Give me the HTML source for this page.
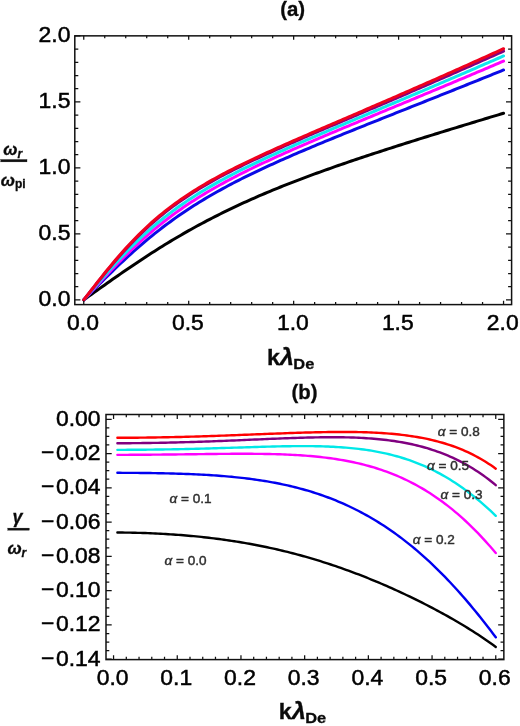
<!DOCTYPE html>
<html><head><meta charset="utf-8"><title>Figure</title>
<style>html,body{margin:0;padding:0;background:#fff}svg{display:block}</style>
</head><body>
<svg width="520" height="726" viewBox="0 0 520 726">
<rect width="520" height="726" fill="#fff"/>
<g fill="none" stroke-width="3.0" stroke-linecap="round" stroke-linejoin="round">
<path stroke="#000000" d="M83.75,299.90 L86.37,298.02 L89.00,296.14 L91.62,294.26 L94.25,292.38 L96.87,290.51 L99.49,288.64 L102.12,286.77 L104.74,284.91 L107.36,283.05 L109.99,281.20 L112.61,279.35 L115.24,277.52 L117.86,275.69 L120.48,273.86 L123.11,272.05 L125.73,270.25 L128.35,268.45 L130.98,266.67 L133.60,264.90 L136.22,263.14 L138.85,261.38 L141.47,259.65 L144.10,257.92 L146.72,256.21 L149.34,254.51 L151.97,252.82 L154.59,251.14 L157.22,249.48 L159.84,247.84 L162.46,246.20 L165.09,244.59 L167.71,242.98 L170.33,241.39 L172.96,239.82 L175.58,238.26 L178.20,236.71 L180.83,235.18 L183.45,233.67 L186.08,232.16 L188.70,230.68 L191.32,229.21 L193.95,227.75 L196.57,226.31 L199.19,224.88 L201.82,223.47 L204.44,222.07 L207.07,220.68 L209.69,219.31 L212.31,217.96 L214.94,216.62 L217.56,215.29 L220.19,213.97 L222.81,212.67 L225.43,211.38 L228.06,210.11 L230.68,208.84 L233.30,207.59 L235.93,206.36 L238.55,205.13 L241.18,203.92 L243.80,202.71 L246.42,201.52 L249.05,200.35 L251.67,199.18 L254.29,198.02 L256.92,196.87 L259.54,195.74 L262.17,194.61 L264.79,193.50 L267.41,192.39 L270.04,191.30 L272.66,190.21 L275.28,189.13 L277.91,188.07 L280.53,187.01 L283.16,185.96 L285.78,184.91 L288.40,183.88 L291.03,182.85 L293.65,181.84 L296.27,180.82 L298.90,179.82 L301.52,178.82 L304.14,177.84 L306.77,176.85 L309.39,175.88 L312.02,174.91 L314.64,173.94 L317.26,172.99 L319.89,172.04 L322.51,171.09 L325.14,170.15 L327.76,169.22 L330.38,168.29 L333.01,167.36 L335.63,166.45 L338.25,165.53 L340.88,164.62 L343.50,163.72 L346.12,162.82 L348.75,161.92 L351.37,161.03 L354.00,160.14 L356.62,159.26 L359.24,158.38 L361.87,157.50 L364.49,156.63 L367.12,155.76 L369.74,154.89 L372.36,154.03 L374.99,153.17 L377.61,152.31 L380.23,151.46 L382.86,150.60 L385.48,149.76 L388.11,148.91 L390.73,148.07 L393.35,147.23 L395.98,146.39 L398.60,145.55 L401.22,144.72 L403.85,143.88 L406.47,143.05 L409.10,142.22 L411.72,141.40 L414.34,140.57 L416.97,139.75 L419.59,138.93 L422.21,138.11 L424.84,137.29 L427.46,136.48 L430.09,135.66 L432.71,134.85 L435.33,134.04 L437.96,133.22 L440.58,132.41 L443.20,131.61 L445.83,130.80 L448.45,129.99 L451.07,129.19 L453.70,128.38 L456.32,127.58 L458.95,126.77 L461.57,125.97 L464.19,125.17 L466.82,124.37 L469.44,123.57 L472.07,122.77 L474.69,121.97 L477.31,121.18 L479.94,120.38 L482.56,119.58 L485.18,118.79 L487.81,117.99 L490.43,117.19 L493.06,116.40 L495.68,115.61 L498.30,114.81 L500.93,114.02 L503.55,113.22"/>
<path stroke="#0a0ae6" d="M83.75,299.90 L86.37,297.24 L89.00,294.58 L91.62,291.93 L94.25,289.28 L96.87,286.64 L99.49,284.00 L102.12,281.39 L104.74,278.78 L107.36,276.19 L109.99,273.62 L112.61,271.07 L115.24,268.53 L117.86,266.02 L120.48,263.53 L123.11,261.07 L125.73,258.63 L128.35,256.22 L130.98,253.83 L133.60,251.48 L136.22,249.15 L138.85,246.85 L141.47,244.58 L144.10,242.34 L146.72,240.14 L149.34,237.96 L151.97,235.82 L154.59,233.70 L157.22,231.62 L159.84,229.57 L162.46,227.55 L165.09,225.56 L167.71,223.60 L170.33,221.67 L172.96,219.77 L175.58,217.90 L178.20,216.06 L180.83,214.25 L183.45,212.46 L186.08,210.71 L188.70,208.98 L191.32,207.27 L193.95,205.59 L196.57,203.94 L199.19,202.31 L201.82,200.70 L204.44,199.12 L207.07,197.56 L209.69,196.02 L212.31,194.50 L214.94,193.00 L217.56,191.53 L220.19,190.07 L222.81,188.63 L225.43,187.21 L228.06,185.80 L230.68,184.41 L233.30,183.04 L235.93,181.68 L238.55,180.34 L241.18,179.01 L243.80,177.70 L246.42,176.40 L249.05,175.11 L251.67,173.83 L254.29,172.57 L256.92,171.32 L259.54,170.08 L262.17,168.84 L264.79,167.62 L267.41,166.41 L270.04,165.21 L272.66,164.02 L275.28,162.83 L277.91,161.65 L280.53,160.48 L283.16,159.32 L285.78,158.17 L288.40,157.02 L291.03,155.87 L293.65,154.74 L296.27,153.61 L298.90,152.48 L301.52,151.36 L304.14,150.25 L306.77,149.14 L309.39,148.03 L312.02,146.93 L314.64,145.84 L317.26,144.74 L319.89,143.65 L322.51,142.57 L325.14,141.48 L327.76,140.41 L330.38,139.33 L333.01,138.25 L335.63,137.18 L338.25,136.11 L340.88,135.05 L343.50,133.98 L346.12,132.92 L348.75,131.86 L351.37,130.80 L354.00,129.74 L356.62,128.69 L359.24,127.63 L361.87,126.58 L364.49,125.53 L367.12,124.48 L369.74,123.43 L372.36,122.38 L374.99,121.33 L377.61,120.29 L380.23,119.24 L382.86,118.19 L385.48,117.15 L388.11,116.10 L390.73,115.06 L393.35,114.02 L395.98,112.97 L398.60,111.93 L401.22,110.89 L403.85,109.84 L406.47,108.80 L409.10,107.76 L411.72,106.71 L414.34,105.67 L416.97,104.63 L419.59,103.58 L422.21,102.54 L424.84,101.50 L427.46,100.45 L430.09,99.41 L432.71,98.37 L435.33,97.32 L437.96,96.28 L440.58,95.23 L443.20,94.18 L445.83,93.14 L448.45,92.09 L451.07,91.04 L453.70,90.00 L456.32,88.95 L458.95,87.90 L461.57,86.85 L464.19,85.80 L466.82,84.75 L469.44,83.70 L472.07,82.65 L474.69,81.59 L477.31,80.54 L479.94,79.49 L482.56,78.43 L485.18,77.38 L487.81,76.32 L490.43,75.27 L493.06,74.21 L495.68,73.15 L498.30,72.09 L500.93,71.03 L503.55,69.98"/>
<path stroke="#ff00ff" d="M83.75,299.90 L86.37,297.01 L89.00,294.13 L91.62,291.25 L94.25,288.37 L96.87,285.51 L99.49,282.66 L102.12,279.83 L104.74,277.02 L107.36,274.22 L109.99,271.45 L112.61,268.70 L115.24,265.98 L117.86,263.29 L120.48,260.62 L123.11,257.99 L125.73,255.39 L128.35,252.83 L130.98,250.29 L133.60,247.80 L136.22,245.34 L138.85,242.91 L141.47,240.53 L144.10,238.18 L146.72,235.87 L149.34,233.60 L151.97,231.36 L154.59,229.16 L157.22,227.00 L159.84,224.88 L162.46,222.79 L165.09,220.74 L167.71,218.73 L170.33,216.75 L172.96,214.80 L175.58,212.89 L178.20,211.01 L180.83,209.17 L183.45,207.35 L186.08,205.57 L188.70,203.81 L191.32,202.09 L193.95,200.39 L196.57,198.72 L199.19,197.07 L201.82,195.45 L204.44,193.86 L207.07,192.29 L209.69,190.74 L212.31,189.22 L214.94,187.71 L217.56,186.23 L220.19,184.77 L222.81,183.32 L225.43,181.90 L228.06,180.49 L230.68,179.10 L233.30,177.72 L235.93,176.36 L238.55,175.01 L241.18,173.68 L243.80,172.36 L246.42,171.06 L249.05,169.77 L251.67,168.49 L254.29,167.22 L256.92,165.96 L259.54,164.71 L262.17,163.47 L264.79,162.24 L267.41,161.02 L270.04,159.81 L272.66,158.60 L275.28,157.41 L277.91,156.22 L280.53,155.04 L283.16,153.86 L285.78,152.69 L288.40,151.53 L291.03,150.37 L293.65,149.21 L296.27,148.07 L298.90,146.92 L301.52,145.78 L304.14,144.65 L306.77,143.52 L309.39,142.39 L312.02,141.27 L314.64,140.15 L317.26,139.03 L319.89,137.91 L322.51,136.80 L325.14,135.69 L327.76,134.59 L330.38,133.48 L333.01,132.38 L335.63,131.28 L338.25,130.18 L340.88,129.08 L343.50,127.98 L346.12,126.89 L348.75,125.79 L351.37,124.70 L354.00,123.61 L356.62,122.52 L359.24,121.43 L361.87,120.34 L364.49,119.25 L367.12,118.16 L369.74,117.07 L372.36,115.99 L374.99,114.90 L377.61,113.81 L380.23,112.73 L382.86,111.64 L385.48,110.55 L388.11,109.47 L390.73,108.38 L393.35,107.29 L395.98,106.21 L398.60,105.12 L401.22,104.03 L403.85,102.94 L406.47,101.85 L409.10,100.77 L411.72,99.68 L414.34,98.59 L416.97,97.50 L419.59,96.41 L422.21,95.31 L424.84,94.22 L427.46,93.13 L430.09,92.04 L432.71,90.94 L435.33,89.85 L437.96,88.76 L440.58,87.66 L443.20,86.56 L445.83,85.47 L448.45,84.37 L451.07,83.27 L453.70,82.17 L456.32,81.07 L458.95,79.97 L461.57,78.87 L464.19,77.76 L466.82,76.66 L469.44,75.56 L472.07,74.45 L474.69,73.35 L477.31,72.24 L479.94,71.13 L482.56,70.02 L485.18,68.91 L487.81,67.80 L490.43,66.69 L493.06,65.58 L495.68,64.47 L498.30,63.35 L500.93,62.24 L503.55,61.12"/>
<path stroke="#10e6ee" d="M83.75,299.90 L86.37,296.81 L89.00,293.73 L91.62,290.65 L94.25,287.59 L96.87,284.53 L99.49,281.50 L102.12,278.48 L104.74,275.49 L107.36,272.52 L109.99,269.58 L112.61,266.67 L115.24,263.79 L117.86,260.94 L120.48,258.14 L123.11,255.37 L125.73,252.64 L128.35,249.95 L130.98,247.31 L133.60,244.71 L136.22,242.15 L138.85,239.63 L141.47,237.16 L144.10,234.73 L146.72,232.35 L149.34,230.02 L151.97,227.72 L154.59,225.47 L157.22,223.27 L159.84,221.10 L162.46,218.98 L165.09,216.90 L167.71,214.86 L170.33,212.86 L172.96,210.89 L175.58,208.97 L178.20,207.08 L180.83,205.22 L183.45,203.40 L186.08,201.62 L188.70,199.86 L191.32,198.14 L193.95,196.45 L196.57,194.78 L199.19,193.14 L201.82,191.53 L204.44,189.95 L207.07,188.39 L209.69,186.86 L212.31,185.34 L214.94,183.85 L217.56,182.38 L220.19,180.93 L222.81,179.50 L225.43,178.09 L228.06,176.70 L230.68,175.32 L233.30,173.96 L235.93,172.61 L238.55,171.28 L241.18,169.96 L243.80,168.66 L246.42,167.36 L249.05,166.08 L251.67,164.81 L254.29,163.55 L256.92,162.30 L259.54,161.07 L262.17,159.84 L264.79,158.61 L267.41,157.40 L270.04,156.19 L272.66,155.00 L275.28,153.81 L277.91,152.62 L280.53,151.44 L283.16,150.27 L285.78,149.10 L288.40,147.94 L291.03,146.78 L293.65,145.63 L296.27,144.48 L298.90,143.33 L301.52,142.19 L304.14,141.06 L306.77,139.92 L309.39,138.79 L312.02,137.66 L314.64,136.54 L317.26,135.41 L319.89,134.29 L322.51,133.17 L325.14,132.05 L327.76,130.94 L330.38,129.82 L333.01,128.71 L335.63,127.60 L338.25,126.49 L340.88,125.38 L343.50,124.27 L346.12,123.16 L348.75,122.05 L351.37,120.95 L354.00,119.84 L356.62,118.73 L359.24,117.63 L361.87,116.52 L364.49,115.42 L367.12,114.31 L369.74,113.21 L372.36,112.10 L374.99,111.00 L377.61,109.89 L380.23,108.79 L382.86,107.68 L385.48,106.57 L388.11,105.47 L390.73,104.36 L393.35,103.25 L395.98,102.14 L398.60,101.03 L401.22,99.92 L403.85,98.81 L406.47,97.70 L409.10,96.59 L411.72,95.48 L414.34,94.36 L416.97,93.25 L419.59,92.13 L422.21,91.02 L424.84,89.90 L427.46,88.79 L430.09,87.67 L432.71,86.55 L435.33,85.43 L437.96,84.31 L440.58,83.18 L443.20,82.06 L445.83,80.94 L448.45,79.81 L451.07,78.69 L453.70,77.56 L456.32,76.43 L458.95,75.30 L461.57,74.17 L464.19,73.04 L466.82,71.91 L469.44,70.78 L472.07,69.64 L474.69,68.51 L477.31,67.37 L479.94,66.24 L482.56,65.10 L485.18,63.96 L487.81,62.82 L490.43,61.68 L493.06,60.54 L495.68,59.39 L498.30,58.25 L500.93,57.10 L503.55,55.96"/>
<path stroke="#800080" d="M83.75,299.90 L86.37,296.56 L89.00,293.22 L91.62,289.89 L94.25,286.58 L96.87,283.28 L99.49,280.01 L102.12,276.76 L104.74,273.54 L107.36,270.35 L109.99,267.20 L112.61,264.09 L115.24,261.02 L117.86,258.00 L120.48,255.02 L123.11,252.10 L125.73,249.22 L128.35,246.39 L130.98,243.62 L133.60,240.90 L136.22,238.23 L138.85,235.62 L141.47,233.06 L144.10,230.56 L146.72,228.11 L149.34,225.71 L151.97,223.37 L154.59,221.07 L157.22,218.83 L159.84,216.64 L162.46,214.49 L165.09,212.39 L167.71,210.34 L170.33,208.33 L172.96,206.37 L175.58,204.44 L178.20,202.56 L180.83,200.71 L183.45,198.91 L186.08,197.14 L188.70,195.40 L191.32,193.70 L193.95,192.03 L196.57,190.39 L199.19,188.78 L201.82,187.19 L204.44,185.64 L207.07,184.11 L209.69,182.60 L212.31,181.12 L214.94,179.66 L217.56,178.22 L220.19,176.80 L222.81,175.40 L225.43,174.01 L228.06,172.65 L230.68,171.30 L233.30,169.97 L235.93,168.65 L238.55,167.34 L241.18,166.05 L243.80,164.77 L246.42,163.50 L249.05,162.24 L251.67,160.99 L254.29,159.76 L256.92,158.53 L259.54,157.31 L262.17,156.10 L264.79,154.89 L267.41,153.70 L270.04,152.51 L272.66,151.32 L275.28,150.15 L277.91,148.98 L280.53,147.81 L283.16,146.65 L285.78,145.49 L288.40,144.34 L291.03,143.19 L293.65,142.04 L296.27,140.90 L298.90,139.76 L301.52,138.62 L304.14,137.49 L306.77,136.36 L309.39,135.23 L312.02,134.10 L314.64,132.97 L317.26,131.85 L319.89,130.73 L322.51,129.60 L325.14,128.48 L327.76,127.36 L330.38,126.24 L333.01,125.13 L335.63,124.01 L338.25,122.89 L340.88,121.78 L343.50,120.66 L346.12,119.54 L348.75,118.43 L351.37,117.31 L354.00,116.19 L356.62,115.08 L359.24,113.96 L361.87,112.84 L364.49,111.73 L367.12,110.61 L369.74,109.49 L372.36,108.37 L374.99,107.25 L377.61,106.13 L380.23,105.01 L382.86,103.89 L385.48,102.76 L388.11,101.64 L390.73,100.51 L393.35,99.39 L395.98,98.26 L398.60,97.14 L401.22,96.01 L403.85,94.88 L406.47,93.75 L409.10,92.62 L411.72,91.48 L414.34,90.35 L416.97,89.22 L419.59,88.08 L422.21,86.94 L424.84,85.81 L427.46,84.67 L430.09,83.53 L432.71,82.38 L435.33,81.24 L437.96,80.10 L440.58,78.95 L443.20,77.81 L445.83,76.66 L448.45,75.51 L451.07,74.36 L453.70,73.21 L456.32,72.06 L458.95,70.90 L461.57,69.75 L464.19,68.59 L466.82,67.44 L469.44,66.28 L472.07,65.12 L474.69,63.96 L477.31,62.79 L479.94,61.63 L482.56,60.47 L485.18,59.30 L487.81,58.13 L490.43,56.97 L493.06,55.80 L495.68,54.63 L498.30,53.46 L500.93,52.28 L503.55,51.11"/>
<path stroke="#f0001e" d="M83.75,299.90 L86.37,296.49 L89.00,293.09 L91.62,289.69 L94.25,286.32 L96.87,282.95 L99.49,279.62 L102.12,276.31 L104.74,273.03 L107.36,269.79 L109.99,266.58 L112.61,263.42 L115.24,260.30 L117.86,257.23 L120.48,254.21 L123.11,251.24 L125.73,248.33 L128.35,245.47 L130.98,242.66 L133.60,239.91 L136.22,237.21 L138.85,234.58 L141.47,232.00 L144.10,229.47 L146.72,227.00 L149.34,224.59 L151.97,222.23 L154.59,219.92 L157.22,217.66 L159.84,215.46 L162.46,213.31 L165.09,211.20 L167.71,209.14 L170.33,207.13 L172.96,205.16 L175.58,203.23 L178.20,201.35 L180.83,199.50 L183.45,197.70 L186.08,195.92 L188.70,194.19 L191.32,192.49 L193.95,190.82 L196.57,189.18 L199.19,187.57 L201.82,185.98 L204.44,184.43 L207.07,182.90 L209.69,181.39 L212.31,179.91 L214.94,178.45 L217.56,177.01 L220.19,175.59 L222.81,174.19 L225.43,172.81 L228.06,171.44 L230.68,170.09 L233.30,168.76 L235.93,167.44 L238.55,166.13 L241.18,164.84 L243.80,163.55 L246.42,162.28 L249.05,161.02 L251.67,159.77 L254.29,158.53 L256.92,157.30 L259.54,156.08 L262.17,154.86 L264.79,153.65 L267.41,152.45 L270.04,151.26 L272.66,150.07 L275.28,148.89 L277.91,147.71 L280.53,146.54 L283.16,145.37 L285.78,144.20 L288.40,143.04 L291.03,141.89 L293.65,140.73 L296.27,139.58 L298.90,138.44 L301.52,137.29 L304.14,136.15 L306.77,135.01 L309.39,133.87 L312.02,132.73 L314.64,131.60 L317.26,130.46 L319.89,129.33 L322.51,128.20 L325.14,127.07 L327.76,125.94 L330.38,124.81 L333.01,123.68 L335.63,122.55 L338.25,121.42 L340.88,120.29 L343.50,119.17 L346.12,118.04 L348.75,116.91 L351.37,115.78 L354.00,114.65 L356.62,113.52 L359.24,112.39 L361.87,111.26 L364.49,110.13 L367.12,109.00 L369.74,107.87 L372.36,106.74 L374.99,105.61 L377.61,104.47 L380.23,103.34 L382.86,102.20 L385.48,101.07 L388.11,99.93 L390.73,98.79 L393.35,97.65 L395.98,96.51 L398.60,95.37 L401.22,94.23 L403.85,93.08 L406.47,91.94 L409.10,90.79 L411.72,89.64 L414.34,88.50 L416.97,87.35 L419.59,86.20 L422.21,85.04 L424.84,83.89 L427.46,82.74 L430.09,81.58 L432.71,80.42 L435.33,79.27 L437.96,78.11 L440.58,76.95 L443.20,75.78 L445.83,74.62 L448.45,73.46 L451.07,72.29 L453.70,71.12 L456.32,69.96 L458.95,68.79 L461.57,67.62 L464.19,66.44 L466.82,65.27 L469.44,64.10 L472.07,62.92 L474.69,61.74 L477.31,60.57 L479.94,59.39 L482.56,58.21 L485.18,57.02 L487.81,55.84 L490.43,54.66 L493.06,53.47 L495.68,52.28 L498.30,51.10 L500.93,49.91 L503.55,48.72"/>
</g>
<g fill="none" stroke-width="2.4" stroke-linecap="round" stroke-linejoin="round">
<path stroke="#000000" d="M117.38,532.52 L119.92,532.53 L122.46,532.56 L125.00,532.58 L127.54,532.62 L130.08,532.66 L132.62,532.71 L135.16,532.77 L137.70,532.83 L140.24,532.90 L142.78,532.98 L145.32,533.07 L147.86,533.16 L150.39,533.26 L152.93,533.37 L155.47,533.48 L158.01,533.61 L160.55,533.74 L163.09,533.88 L165.63,534.02 L168.17,534.18 L170.71,534.34 L173.25,534.51 L175.79,534.69 L178.33,534.87 L180.87,535.07 L183.41,535.27 L185.95,535.48 L188.49,535.70 L191.03,535.93 L193.57,536.17 L196.10,536.41 L198.64,536.67 L201.18,536.93 L203.72,537.20 L206.26,537.48 L208.80,537.78 L211.34,538.08 L213.88,538.39 L216.42,538.71 L218.96,539.04 L221.50,539.38 L224.04,539.72 L226.58,540.08 L229.12,540.45 L231.66,540.83 L234.20,541.22 L236.74,541.62 L239.28,542.03 L241.82,542.46 L244.35,542.89 L246.89,543.33 L249.43,543.78 L251.97,544.25 L254.51,544.73 L257.05,545.21 L259.59,545.71 L262.13,546.22 L264.67,546.74 L267.21,547.28 L269.75,547.82 L272.29,548.38 L274.83,548.94 L277.37,549.52 L279.91,550.11 L282.45,550.72 L284.99,551.33 L287.53,551.96 L290.06,552.60 L292.60,553.25 L295.14,553.91 L297.68,554.59 L300.22,555.28 L302.76,555.98 L305.30,556.69 L307.84,557.42 L310.38,558.15 L312.92,558.90 L315.46,559.66 L318.00,560.44 L320.54,561.22 L323.08,562.02 L325.62,562.83 L328.16,563.66 L330.70,564.49 L333.24,565.34 L335.77,566.20 L338.31,567.07 L340.85,567.96 L343.39,568.86 L345.93,569.76 L348.47,570.69 L351.01,571.62 L353.55,572.57 L356.09,573.52 L358.63,574.49 L361.17,575.48 L363.71,576.47 L366.25,577.48 L368.79,578.50 L371.33,579.53 L373.87,580.57 L376.41,581.62 L378.95,582.69 L381.48,583.77 L384.02,584.86 L386.56,585.96 L389.10,587.07 L391.64,588.20 L394.18,589.34 L396.72,590.49 L399.26,591.65 L401.80,592.82 L404.34,594.01 L406.88,595.21 L409.42,596.42 L411.96,597.64 L414.50,598.88 L417.04,600.12 L419.58,601.38 L422.12,602.66 L424.66,603.95 L427.19,605.25 L429.73,606.56 L432.27,607.89 L434.81,609.23 L437.35,610.58 L439.89,611.96 L442.43,613.34 L444.97,614.74 L447.51,616.16 L450.05,617.59 L452.59,619.04 L455.13,620.51 L457.67,622.00 L460.21,623.50 L462.75,625.02 L465.29,626.56 L467.83,628.13 L470.37,629.71 L472.90,631.32 L475.44,632.95 L477.98,634.60 L480.52,636.28 L483.06,637.98 L485.60,639.71 L488.14,641.47 L490.68,643.26 L493.22,645.08 L495.76,646.93"/>
<path stroke="#0000f0" d="M117.38,472.82 L119.92,472.82 L122.46,472.83 L125.00,472.84 L127.54,472.85 L130.08,472.86 L132.62,472.88 L135.16,472.90 L137.70,472.92 L140.24,472.94 L142.78,472.97 L145.32,473.00 L147.86,473.03 L150.39,473.06 L152.93,473.10 L155.47,473.14 L158.01,473.19 L160.55,473.23 L163.09,473.29 L165.63,473.34 L168.17,473.40 L170.71,473.46 L173.25,473.53 L175.79,473.60 L178.33,473.68 L180.87,473.76 L183.41,473.85 L185.95,473.94 L188.49,474.04 L191.03,474.15 L193.57,474.26 L196.10,474.37 L198.64,474.50 L201.18,474.63 L203.72,474.76 L206.26,474.91 L208.80,475.06 L211.34,475.22 L213.88,475.39 L216.42,475.56 L218.96,475.75 L221.50,475.94 L224.04,476.15 L226.58,476.36 L229.12,476.59 L231.66,476.82 L234.20,477.07 L236.74,477.33 L239.28,477.59 L241.82,477.87 L244.35,478.17 L246.89,478.47 L249.43,478.79 L251.97,479.13 L254.51,479.47 L257.05,479.83 L259.59,480.21 L262.13,480.60 L264.67,481.00 L267.21,481.43 L269.75,481.87 L272.29,482.32 L274.83,482.79 L277.37,483.28 L279.91,483.79 L282.45,484.32 L284.99,484.86 L287.53,485.43 L290.06,486.02 L292.60,486.62 L295.14,487.25 L297.68,487.90 L300.22,488.57 L302.76,489.26 L305.30,489.97 L307.84,490.71 L310.38,491.47 L312.92,492.25 L315.46,493.06 L318.00,493.90 L320.54,494.76 L323.08,495.64 L325.62,496.56 L328.16,497.50 L330.70,498.46 L333.24,499.46 L335.77,500.48 L338.31,501.53 L340.85,502.61 L343.39,503.72 L345.93,504.86 L348.47,506.03 L351.01,507.23 L353.55,508.47 L356.09,509.73 L358.63,511.03 L361.17,512.36 L363.71,513.72 L366.25,515.12 L368.79,516.55 L371.33,518.01 L373.87,519.51 L376.41,521.04 L378.95,522.61 L381.48,524.22 L384.02,525.86 L386.56,527.54 L389.10,529.26 L391.64,531.01 L394.18,532.80 L396.72,534.63 L399.26,536.50 L401.80,538.40 L404.34,540.34 L406.88,542.33 L409.42,544.35 L411.96,546.41 L414.50,548.52 L417.04,550.66 L419.58,552.84 L422.12,555.07 L424.66,557.33 L427.19,559.63 L429.73,561.98 L432.27,564.37 L434.81,566.80 L437.35,569.27 L439.89,571.78 L442.43,574.33 L444.97,576.92 L447.51,579.56 L450.05,582.23 L452.59,584.95 L455.13,587.71 L457.67,590.51 L460.21,593.35 L462.75,596.23 L465.29,599.16 L467.83,602.12 L470.37,605.13 L472.90,608.17 L475.44,611.25 L477.98,614.38 L480.52,617.54 L483.06,620.74 L485.60,623.98 L488.14,627.26 L490.68,630.57 L493.22,633.93 L495.76,637.32"/>
<path stroke="#ff00ff" d="M117.38,454.85 L119.92,454.84 L122.46,454.84 L125.00,454.83 L127.54,454.83 L130.08,454.82 L132.62,454.81 L135.16,454.79 L137.70,454.78 L140.24,454.77 L142.78,454.75 L145.32,454.73 L147.86,454.71 L150.39,454.69 L152.93,454.67 L155.47,454.65 L158.01,454.62 L160.55,454.60 L163.09,454.57 L165.63,454.55 L168.17,454.52 L170.71,454.49 L173.25,454.46 L175.79,454.43 L178.33,454.40 L180.87,454.37 L183.41,454.34 L185.95,454.31 L188.49,454.27 L191.03,454.24 L193.57,454.21 L196.10,454.18 L198.64,454.15 L201.18,454.11 L203.72,454.08 L206.26,454.05 L208.80,454.02 L211.34,453.99 L213.88,453.97 L216.42,453.94 L218.96,453.92 L221.50,453.89 L224.04,453.87 L226.58,453.85 L229.12,453.83 L231.66,453.82 L234.20,453.81 L236.74,453.80 L239.28,453.79 L241.82,453.79 L244.35,453.79 L246.89,453.79 L249.43,453.80 L251.97,453.81 L254.51,453.83 L257.05,453.85 L259.59,453.88 L262.13,453.91 L264.67,453.95 L267.21,453.99 L269.75,454.04 L272.29,454.10 L274.83,454.17 L277.37,454.24 L279.91,454.32 L282.45,454.41 L284.99,454.51 L287.53,454.62 L290.06,454.73 L292.60,454.86 L295.14,455.00 L297.68,455.15 L300.22,455.31 L302.76,455.48 L305.30,455.66 L307.84,455.86 L310.38,456.07 L312.92,456.30 L315.46,456.54 L318.00,456.79 L320.54,457.06 L323.08,457.35 L325.62,457.65 L328.16,457.97 L330.70,458.31 L333.24,458.67 L335.77,459.05 L338.31,459.44 L340.85,459.86 L343.39,460.30 L345.93,460.76 L348.47,461.24 L351.01,461.75 L353.55,462.28 L356.09,462.84 L358.63,463.42 L361.17,464.02 L363.71,464.66 L366.25,465.32 L368.79,466.01 L371.33,466.73 L373.87,467.47 L376.41,468.25 L378.95,469.06 L381.48,469.91 L384.02,470.78 L386.56,471.69 L389.10,472.63 L391.64,473.61 L394.18,474.63 L396.72,475.68 L399.26,476.77 L401.80,477.89 L404.34,479.06 L406.88,480.27 L409.42,481.52 L411.96,482.81 L414.50,484.14 L417.04,485.51 L419.58,486.93 L422.12,488.39 L424.66,489.90 L427.19,491.46 L429.73,493.06 L432.27,494.71 L434.81,496.40 L437.35,498.15 L439.89,499.95 L442.43,501.79 L444.97,503.69 L447.51,505.64 L450.05,507.64 L452.59,509.69 L455.13,511.80 L457.67,513.96 L460.21,516.17 L462.75,518.44 L465.29,520.76 L467.83,523.14 L470.37,525.57 L472.90,528.06 L475.44,530.61 L477.98,533.21 L480.52,535.87 L483.06,538.59 L485.60,541.36 L488.14,544.19 L490.68,547.08 L493.22,550.03 L495.76,553.03"/>
<path stroke="#00e8e8" d="M117.38,449.85 L119.92,449.84 L122.46,449.84 L125.00,449.83 L127.54,449.82 L130.08,449.81 L132.62,449.79 L135.16,449.78 L137.70,449.76 L140.24,449.74 L142.78,449.71 L145.32,449.69 L147.86,449.66 L150.39,449.63 L152.93,449.60 L155.47,449.57 L158.01,449.53 L160.55,449.50 L163.09,449.46 L165.63,449.42 L168.17,449.38 L170.71,449.33 L173.25,449.28 L175.79,449.23 L178.33,449.18 L180.87,449.13 L183.41,449.08 L185.95,449.02 L188.49,448.96 L191.03,448.90 L193.57,448.84 L196.10,448.78 L198.64,448.71 L201.18,448.65 L203.72,448.58 L206.26,448.51 L208.80,448.44 L211.34,448.36 L213.88,448.29 L216.42,448.22 L218.96,448.14 L221.50,448.06 L224.04,447.99 L226.58,447.91 L229.12,447.83 L231.66,447.75 L234.20,447.67 L236.74,447.59 L239.28,447.51 L241.82,447.43 L244.35,447.35 L246.89,447.27 L249.43,447.19 L251.97,447.11 L254.51,447.03 L257.05,446.96 L259.59,446.88 L262.13,446.81 L264.67,446.74 L267.21,446.67 L269.75,446.60 L272.29,446.54 L274.83,446.48 L277.37,446.42 L279.91,446.37 L282.45,446.32 L284.99,446.27 L287.53,446.23 L290.06,446.20 L292.60,446.17 L295.14,446.14 L297.68,446.12 L300.22,446.11 L302.76,446.11 L305.30,446.11 L307.84,446.12 L310.38,446.14 L312.92,446.17 L315.46,446.21 L318.00,446.26 L320.54,446.32 L323.08,446.39 L325.62,446.47 L328.16,446.57 L330.70,446.68 L333.24,446.80 L335.77,446.93 L338.31,447.08 L340.85,447.25 L343.39,447.43 L345.93,447.63 L348.47,447.84 L351.01,448.08 L353.55,448.33 L356.09,448.60 L358.63,448.90 L361.17,449.21 L363.71,449.55 L366.25,449.90 L368.79,450.28 L371.33,450.69 L373.87,451.12 L376.41,451.58 L378.95,452.06 L381.48,452.57 L384.02,453.11 L386.56,453.67 L389.10,454.27 L391.64,454.90 L394.18,455.55 L396.72,456.24 L399.26,456.97 L401.80,457.73 L404.34,458.52 L406.88,459.34 L409.42,460.21 L411.96,461.11 L414.50,462.05 L417.04,463.02 L419.58,464.04 L422.12,465.10 L424.66,466.19 L427.19,467.33 L429.73,468.52 L432.27,469.74 L434.81,471.01 L437.35,472.32 L439.89,473.68 L442.43,475.08 L444.97,476.53 L447.51,478.03 L450.05,479.57 L452.59,481.17 L455.13,482.81 L457.67,484.50 L460.21,486.23 L462.75,488.02 L465.29,489.86 L467.83,491.74 L470.37,493.68 L472.90,495.67 L475.44,497.71 L477.98,499.79 L480.52,501.93 L483.06,504.12 L485.60,506.36 L488.14,508.65 L490.68,510.99 L493.22,513.37 L495.76,515.81"/>
<path stroke="#800080" d="M117.38,443.24 L119.92,443.23 L122.46,443.23 L125.00,443.22 L127.54,443.20 L130.08,443.19 L132.62,443.17 L135.16,443.15 L137.70,443.12 L140.24,443.09 L142.78,443.07 L145.32,443.03 L147.86,443.00 L150.39,442.96 L152.93,442.92 L155.47,442.88 L158.01,442.83 L160.55,442.79 L163.09,442.74 L165.63,442.68 L168.17,442.63 L170.71,442.57 L173.25,442.51 L175.79,442.45 L178.33,442.38 L180.87,442.31 L183.41,442.25 L185.95,442.17 L188.49,442.10 L191.03,442.02 L193.57,441.94 L196.10,441.86 L198.64,441.78 L201.18,441.70 L203.72,441.61 L206.26,441.52 L208.80,441.43 L211.34,441.34 L213.88,441.24 L216.42,441.15 L218.96,441.05 L221.50,440.95 L224.04,440.85 L226.58,440.75 L229.12,440.64 L231.66,440.54 L234.20,440.43 L236.74,440.33 L239.28,440.22 L241.82,440.11 L244.35,440.00 L246.89,439.89 L249.43,439.78 L251.97,439.67 L254.51,439.56 L257.05,439.45 L259.59,439.34 L262.13,439.23 L264.67,439.12 L267.21,439.02 L269.75,438.91 L272.29,438.80 L274.83,438.70 L277.37,438.59 L279.91,438.49 L282.45,438.39 L284.99,438.30 L287.53,438.20 L290.06,438.11 L292.60,438.02 L295.14,437.93 L297.68,437.85 L300.22,437.77 L302.76,437.69 L305.30,437.62 L307.84,437.55 L310.38,437.49 L312.92,437.44 L315.46,437.39 L318.00,437.34 L320.54,437.30 L323.08,437.27 L325.62,437.25 L328.16,437.23 L330.70,437.22 L333.24,437.22 L335.77,437.23 L338.31,437.25 L340.85,437.27 L343.39,437.31 L345.93,437.36 L348.47,437.42 L351.01,437.49 L353.55,437.57 L356.09,437.67 L358.63,437.78 L361.17,437.90 L363.71,438.04 L366.25,438.19 L368.79,438.36 L371.33,438.54 L373.87,438.74 L376.41,438.96 L378.95,439.20 L381.48,439.46 L384.02,439.73 L386.56,440.03 L389.10,440.35 L391.64,440.69 L394.18,441.05 L396.72,441.44 L399.26,441.85 L401.80,442.28 L404.34,442.75 L406.88,443.23 L409.42,443.75 L411.96,444.29 L414.50,444.87 L417.04,445.47 L419.58,446.11 L422.12,446.78 L424.66,447.48 L427.19,448.22 L429.73,448.99 L432.27,449.79 L434.81,450.64 L437.35,451.52 L439.89,452.44 L442.43,453.41 L444.97,454.41 L447.51,455.46 L450.05,456.55 L452.59,457.69 L455.13,458.87 L457.67,460.11 L460.21,461.39 L462.75,462.72 L465.29,464.10 L467.83,465.53 L470.37,467.02 L472.90,468.56 L475.44,470.16 L477.98,471.82 L480.52,473.53 L483.06,475.31 L485.60,477.15 L488.14,479.05 L490.68,481.02 L493.22,483.05 L495.76,485.16"/>
<path stroke="#ff0000" d="M117.38,437.80 L119.92,437.80 L122.46,437.79 L125.00,437.78 L127.54,437.77 L130.08,437.75 L132.62,437.73 L135.16,437.71 L137.70,437.69 L140.24,437.67 L142.78,437.64 L145.32,437.61 L147.86,437.57 L150.39,437.54 L152.93,437.50 L155.47,437.46 L158.01,437.42 L160.55,437.37 L163.09,437.32 L165.63,437.27 L168.17,437.22 L170.71,437.17 L173.25,437.11 L175.79,437.05 L178.33,436.99 L180.87,436.93 L183.41,436.86 L185.95,436.80 L188.49,436.73 L191.03,436.66 L193.57,436.58 L196.10,436.51 L198.64,436.43 L201.18,436.35 L203.72,436.27 L206.26,436.19 L208.80,436.11 L211.34,436.02 L213.88,435.94 L216.42,435.85 L218.96,435.76 L221.50,435.67 L224.04,435.58 L226.58,435.48 L229.12,435.39 L231.66,435.30 L234.20,435.20 L236.74,435.10 L239.28,435.01 L241.82,434.91 L244.35,434.81 L246.89,434.71 L249.43,434.61 L251.97,434.51 L254.51,434.41 L257.05,434.31 L259.59,434.21 L262.13,434.11 L264.67,434.01 L267.21,433.91 L269.75,433.81 L272.29,433.72 L274.83,433.62 L277.37,433.52 L279.91,433.43 L282.45,433.33 L284.99,433.24 L287.53,433.15 L290.06,433.06 L292.60,432.97 L295.14,432.89 L297.68,432.81 L300.22,432.73 L302.76,432.65 L305.30,432.57 L307.84,432.50 L310.38,432.43 L312.92,432.37 L315.46,432.31 L318.00,432.25 L320.54,432.20 L323.08,432.15 L325.62,432.11 L328.16,432.07 L330.70,432.03 L333.24,432.01 L335.77,431.99 L338.31,431.97 L340.85,431.96 L343.39,431.96 L345.93,431.97 L348.47,431.98 L351.01,432.00 L353.55,432.03 L356.09,432.07 L358.63,432.12 L361.17,432.17 L363.71,432.24 L366.25,432.32 L368.79,432.41 L371.33,432.51 L373.87,432.63 L376.41,432.75 L378.95,432.89 L381.48,433.04 L384.02,433.21 L386.56,433.39 L389.10,433.59 L391.64,433.81 L394.18,434.04 L396.72,434.29 L399.26,434.56 L401.80,434.84 L404.34,435.15 L406.88,435.48 L409.42,435.83 L411.96,436.20 L414.50,436.59 L417.04,437.01 L419.58,437.46 L422.12,437.93 L424.66,438.42 L427.19,438.95 L429.73,439.50 L432.27,440.09 L434.81,440.71 L437.35,441.36 L439.89,442.04 L442.43,442.76 L444.97,443.51 L447.51,444.31 L450.05,445.14 L452.59,446.01 L455.13,446.93 L457.67,447.88 L460.21,448.89 L462.75,449.94 L465.29,451.04 L467.83,452.18 L470.37,453.38 L472.90,454.64 L475.44,455.95 L477.98,457.32 L480.52,458.74 L483.06,460.23 L485.60,461.78 L488.14,463.40 L490.68,465.08 L493.22,466.84 L495.76,468.67"/>
</g>
<rect x="74.8" y="35.85" width="436.80" height="268.75" fill="none" stroke="#111" stroke-width="1.5"/>
<path d="M83.75,304.6v-3.8M83.75,35.85v3.8M104.74,304.6v-2.5M104.74,35.85v2.5M125.73,304.6v-2.5M125.73,35.85v2.5M146.72,304.6v-2.5M146.72,35.85v2.5M167.71,304.6v-2.5M167.71,35.85v2.5M188.70,304.6v-3.8M188.70,35.85v3.8M209.69,304.6v-2.5M209.69,35.85v2.5M230.68,304.6v-2.5M230.68,35.85v2.5M251.67,304.6v-2.5M251.67,35.85v2.5M272.66,304.6v-2.5M272.66,35.85v2.5M293.65,304.6v-3.8M293.65,35.85v3.8M314.64,304.6v-2.5M314.64,35.85v2.5M335.63,304.6v-2.5M335.63,35.85v2.5M356.62,304.6v-2.5M356.62,35.85v2.5M377.61,304.6v-2.5M377.61,35.85v2.5M398.60,304.6v-3.8M398.60,35.85v3.8M419.59,304.6v-2.5M419.59,35.85v2.5M440.58,304.6v-2.5M440.58,35.85v2.5M461.57,304.6v-2.5M461.57,35.85v2.5M482.56,304.6v-2.5M482.56,35.85v2.5M503.55,304.6v-3.8M503.55,35.85v3.8M74.8,299.90h5.6M511.6,299.90h-5.6M74.8,286.70h3.5M511.6,286.70h-3.5M74.8,273.50h3.5M511.6,273.50h-3.5M74.8,260.30h3.5M511.6,260.30h-3.5M74.8,247.10h3.5M511.6,247.10h-3.5M74.8,233.90h5.6M511.6,233.90h-5.6M74.8,220.70h3.5M511.6,220.70h-3.5M74.8,207.50h3.5M511.6,207.50h-3.5M74.8,194.30h3.5M511.6,194.30h-3.5M74.8,181.10h3.5M511.6,181.10h-3.5M74.8,167.90h5.6M511.6,167.90h-5.6M74.8,154.70h3.5M511.6,154.70h-3.5M74.8,141.50h3.5M511.6,141.50h-3.5M74.8,128.30h3.5M511.6,128.30h-3.5M74.8,115.10h3.5M511.6,115.10h-3.5M74.8,101.90h5.6M511.6,101.90h-5.6M74.8,88.70h3.5M511.6,88.70h-3.5M74.8,75.50h3.5M511.6,75.50h-3.5M74.8,62.30h3.5M511.6,62.30h-3.5M74.8,49.10h3.5M511.6,49.10h-3.5M74.8,35.90h5.6M511.6,35.90h-5.6" fill="none" stroke="#111" stroke-width="1.25"/>
<rect x="106.0" y="414.5" width="397.85" height="245.10" fill="none" stroke="#111" stroke-width="1.5"/>
<path d="M113.56,659.6v-4.4M113.56,414.5v4.4M126.30,659.6v-2.8M126.30,414.5v2.8M139.04,659.6v-2.8M139.04,414.5v2.8M151.78,659.6v-2.8M151.78,414.5v2.8M164.52,659.6v-2.8M164.52,414.5v2.8M177.26,659.6v-4.4M177.26,414.5v4.4M190.00,659.6v-2.8M190.00,414.5v2.8M202.74,659.6v-2.8M202.74,414.5v2.8M215.48,659.6v-2.8M215.48,414.5v2.8M228.22,659.6v-2.8M228.22,414.5v2.8M240.96,659.6v-4.4M240.96,414.5v4.4M253.70,659.6v-2.8M253.70,414.5v2.8M266.44,659.6v-2.8M266.44,414.5v2.8M279.18,659.6v-2.8M279.18,414.5v2.8M291.92,659.6v-2.8M291.92,414.5v2.8M304.66,659.6v-4.4M304.66,414.5v4.4M317.40,659.6v-2.8M317.40,414.5v2.8M330.14,659.6v-2.8M330.14,414.5v2.8M342.88,659.6v-2.8M342.88,414.5v2.8M355.62,659.6v-2.8M355.62,414.5v2.8M368.36,659.6v-4.4M368.36,414.5v4.4M381.10,659.6v-2.8M381.10,414.5v2.8M393.84,659.6v-2.8M393.84,414.5v2.8M406.58,659.6v-2.8M406.58,414.5v2.8M419.32,659.6v-2.8M419.32,414.5v2.8M432.06,659.6v-4.4M432.06,414.5v4.4M444.80,659.6v-2.8M444.80,414.5v2.8M457.54,659.6v-2.8M457.54,414.5v2.8M470.28,659.6v-2.8M470.28,414.5v2.8M483.02,659.6v-2.8M483.02,414.5v2.8M495.76,659.6v-4.4M495.76,414.5v4.4M106.0,419.25h5.7M503.85,419.25h-5.7M106.0,427.82h3.3M503.85,427.82h-3.3M106.0,436.39h3.3M503.85,436.39h-3.3M106.0,444.96h3.3M503.85,444.96h-3.3M106.0,453.53h5.7M503.85,453.53h-5.7M106.0,462.10h3.3M503.85,462.10h-3.3M106.0,470.67h3.3M503.85,470.67h-3.3M106.0,479.24h3.3M503.85,479.24h-3.3M106.0,487.81h5.7M503.85,487.81h-5.7M106.0,496.38h3.3M503.85,496.38h-3.3M106.0,504.95h3.3M503.85,504.95h-3.3M106.0,513.52h3.3M503.85,513.52h-3.3M106.0,522.09h5.7M503.85,522.09h-5.7M106.0,530.66h3.3M503.85,530.66h-3.3M106.0,539.23h3.3M503.85,539.23h-3.3M106.0,547.80h3.3M503.85,547.80h-3.3M106.0,556.37h5.7M503.85,556.37h-5.7M106.0,564.94h3.3M503.85,564.94h-3.3M106.0,573.51h3.3M503.85,573.51h-3.3M106.0,582.08h3.3M503.85,582.08h-3.3M106.0,590.65h5.7M503.85,590.65h-5.7M106.0,599.22h3.3M503.85,599.22h-3.3M106.0,607.79h3.3M503.85,607.79h-3.3M106.0,616.36h3.3M503.85,616.36h-3.3M106.0,624.93h5.7M503.85,624.93h-5.7M106.0,633.50h3.3M503.85,633.50h-3.3M106.0,642.07h3.3M503.85,642.07h-3.3M106.0,650.64h3.3M503.85,650.64h-3.3M106.0,659.21h5.7M503.85,659.21h-5.7" fill="none" stroke="#111" stroke-width="1.25"/>
<g font-family="Liberation Sans, Arial, Helvetica, sans-serif" fill="#000" stroke="#000" stroke-width="0.5">
<text transform="translate(82.95,330.00) scale(1.01,1)" font-size="22.7" text-anchor="middle" >0.0</text>
<text transform="translate(187.90,330.00) scale(1.01,1)" font-size="22.7" text-anchor="middle" >0.5</text>
<text transform="translate(292.85,330.00) scale(1.01,1)" font-size="22.7" text-anchor="middle" >1.0</text>
<text transform="translate(397.80,330.00) scale(1.01,1)" font-size="22.7" text-anchor="middle" >1.5</text>
<text transform="translate(502.75,330.00) scale(1.01,1)" font-size="22.7" text-anchor="middle" >2.0</text>
<text transform="translate(70.40,306.40) scale(1.01,1)" font-size="22.7" text-anchor="end" >0.0</text>
<text transform="translate(70.40,240.40) scale(1.01,1)" font-size="22.7" text-anchor="end" >0.5</text>
<text transform="translate(70.40,174.40) scale(1.01,1)" font-size="22.7" text-anchor="end" >1.0</text>
<text transform="translate(70.40,108.40) scale(1.01,1)" font-size="22.7" text-anchor="end" >1.5</text>
<text transform="translate(70.40,42.40) scale(1.01,1)" font-size="22.7" text-anchor="end" >2.0</text>
<text transform="translate(112.56,685.00) scale(1.01,1)" font-size="22.7" text-anchor="middle" >0.0</text>
<text transform="translate(176.26,685.00) scale(1.01,1)" font-size="22.7" text-anchor="middle" >0.1</text>
<text transform="translate(239.96,685.00) scale(1.01,1)" font-size="22.7" text-anchor="middle" >0.2</text>
<text transform="translate(303.66,685.00) scale(1.01,1)" font-size="22.7" text-anchor="middle" >0.3</text>
<text transform="translate(367.36,685.00) scale(1.01,1)" font-size="22.7" text-anchor="middle" >0.4</text>
<text transform="translate(431.06,685.00) scale(1.01,1)" font-size="22.7" text-anchor="middle" >0.5</text>
<text transform="translate(494.76,685.00) scale(1.01,1)" font-size="22.7" text-anchor="middle" >0.6</text>
<text transform="translate(100.50,425.75) scale(1.01,1)" font-size="22.7" text-anchor="end" >0.00</text>
<text transform="translate(100.50,460.03) scale(1.01,1)" font-size="22.7" text-anchor="end" >−<tspan dx="1.4">0.02</tspan></text>
<text transform="translate(100.50,494.31) scale(1.01,1)" font-size="22.7" text-anchor="end" >−<tspan dx="1.4">0.04</tspan></text>
<text transform="translate(100.50,528.59) scale(1.01,1)" font-size="22.7" text-anchor="end" >−<tspan dx="1.4">0.06</tspan></text>
<text transform="translate(100.50,562.87) scale(1.01,1)" font-size="22.7" text-anchor="end" >−<tspan dx="1.4">0.08</tspan></text>
<text transform="translate(100.50,597.15) scale(1.01,1)" font-size="22.7" text-anchor="end" >−<tspan dx="1.4">0.10</tspan></text>
<text transform="translate(100.50,631.43) scale(1.01,1)" font-size="22.7" text-anchor="end" >−<tspan dx="1.4">0.12</tspan></text>
<text transform="translate(100.50,665.71) scale(1.01,1)" font-size="22.7" text-anchor="end" >−<tspan dx="1.4">0.14</tspan></text>
</g>
<g font-family="Liberation Sans, Arial, Helvetica, sans-serif" font-weight="bold" fill="#0a0a0a" stroke="#0a0a0a" stroke-width="0.3">
<text transform="translate(292.60,15.60) scale(1.02,1)" font-size="20" text-anchor="middle" >(a)</text>
<text transform="translate(304.60,399.00) scale(1.02,1)" font-size="20" text-anchor="middle" >(b)</text>
<text transform="translate(266.90,364.60) scale(1.06,1)" font-size="22" text-anchor="start" >k<tspan font-style="italic" font-size="24">λ</tspan><tspan font-size="15.5" dy="4.0" dx="-0.6">De</tspan></text>
<text transform="translate(278.70,719.30) scale(1.06,1)" font-size="22" text-anchor="start" >k<tspan font-style="italic" font-size="24">λ</tspan><tspan font-size="15.5" dy="4.0" dx="-0.6">De</tspan></text>
<text transform="translate(3.30,155.10) scale(1.0,1)" font-size="17" text-anchor="start" ><tspan font-style="italic">ω</tspan><tspan font-size="12" font-style="italic" dy="2.7">r</tspan></text>
<text transform="translate(0.80,185.70) scale(1.0,1)" font-size="17" text-anchor="start" ><tspan font-style="italic">ω</tspan><tspan font-size="12" dy="2.3">pi</tspan></text>
<rect x="0.8" y="159.5" width="26.2" height="2.4" fill="#111"/>
<text transform="translate(12.60,522.80) scale(1.0,1)" font-size="18" text-anchor="start" ><tspan font-style="italic">γ</tspan></text>
<text transform="translate(7.40,553.70) scale(1.0,1)" font-size="17" text-anchor="start" ><tspan font-style="italic">ω</tspan><tspan font-size="12" font-style="italic" dy="2.9">r</tspan></text>
<rect x="7.8" y="528.1" width="21.5" height="2.1" fill="#111"/>
</g>
<g font-family="Liberation Sans, Arial, Helvetica, sans-serif" fill="#2e2e2e" stroke="#2e2e2e" stroke-width="0.4">
<text transform="translate(437.80,435.80) scale(1.13,1)" font-size="12" text-anchor="start" ><tspan font-style="italic">α</tspan> = 0.8</text>
<text transform="translate(427.10,469.50) scale(1.13,1)" font-size="12" text-anchor="start" ><tspan font-style="italic">α</tspan> = 0.5</text>
<text transform="translate(440.60,498.60) scale(1.13,1)" font-size="12" text-anchor="start" ><tspan font-style="italic">α</tspan> = 0.3</text>
<text transform="translate(412.80,544.10) scale(1.13,1)" font-size="12" text-anchor="start" ><tspan font-style="italic">α</tspan> = 0.2</text>
<text transform="translate(169.60,503.40) scale(1.13,1)" font-size="12" text-anchor="start" ><tspan font-style="italic">α</tspan> = 0.1</text>
<text transform="translate(164.60,564.70) scale(1.13,1)" font-size="12" text-anchor="start" ><tspan font-style="italic">α</tspan> = 0.0</text>
</g>
</svg>
</body></html>
